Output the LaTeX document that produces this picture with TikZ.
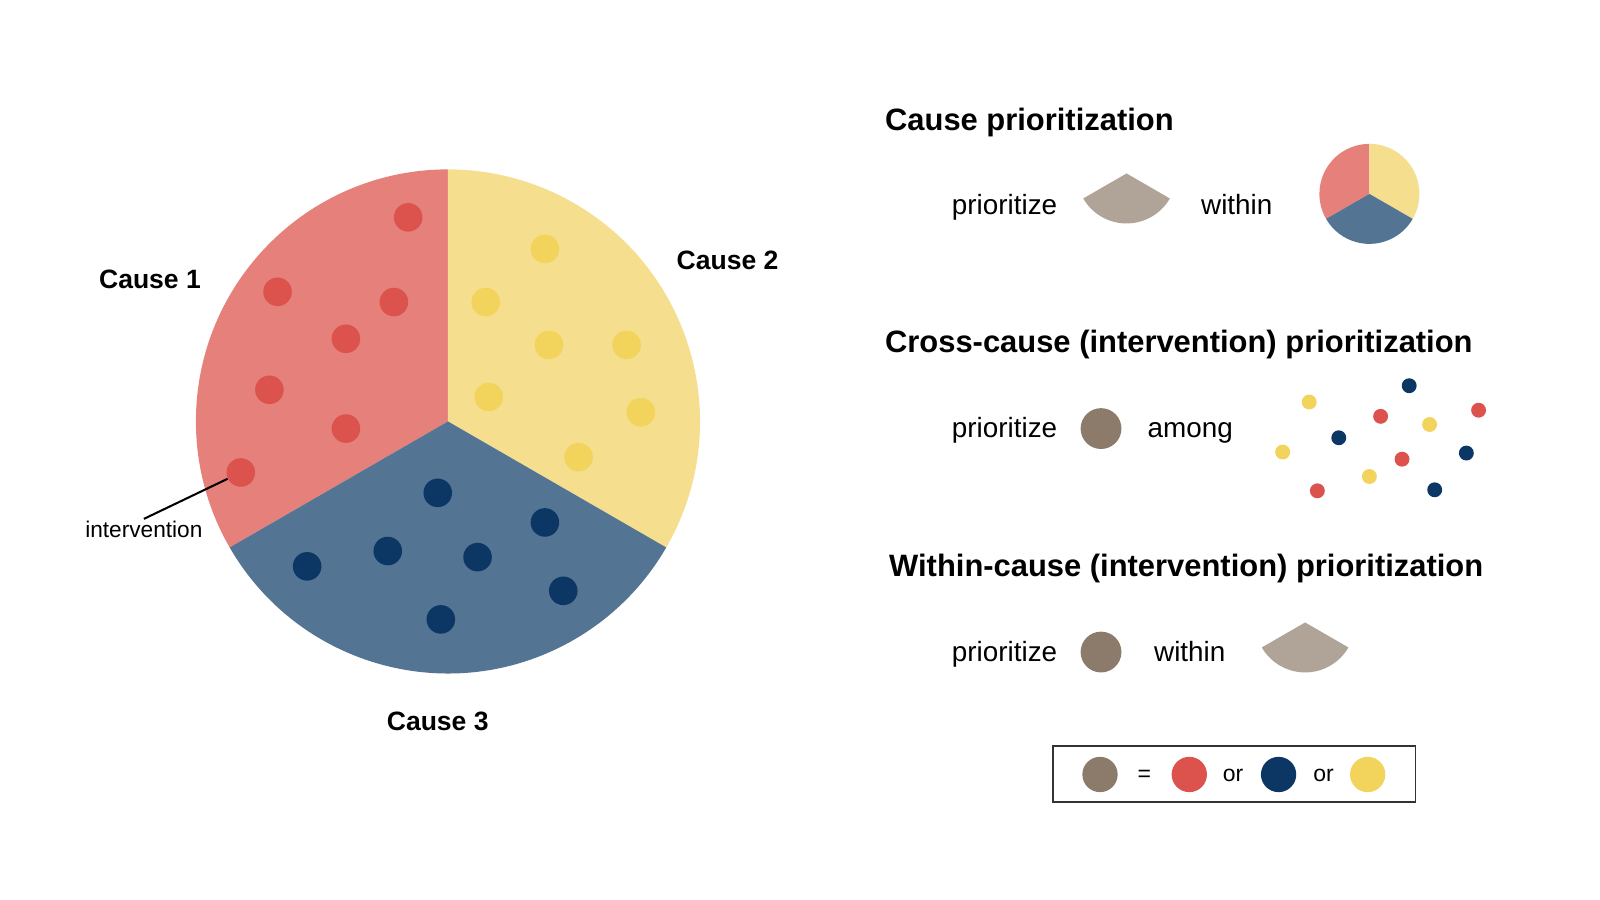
\documentclass[tikz,border=0pt]{standalone}
\usepackage{fontspec}
\setmainfont{Liberation Sans}
\definecolor{cRedL}{HTML}{E5807A}
\definecolor{cRed}{HTML}{DC524C}
\definecolor{cYelL}{HTML}{F5DF8E}
\definecolor{cYel}{HTML}{F2D35C}
\definecolor{cBluL}{HTML}{537493}
\definecolor{cNavy}{HTML}{0C3764}
\definecolor{cGray}{HTML}{B0A398}
\definecolor{cBrown}{HTML}{8C7B6B}
\begin{document}
\begin{tikzpicture}[x=0.5pt,y=0.5pt,
  pdot/.style={circle, inner sep=0pt, minimum size=14pt, draw=none},
  sdot/.style={circle, inner sep=0pt, minimum size=7.3pt, draw=none},
  ldot/.style={circle, inner sep=0pt, minimum size=17.3pt, draw=none},
  bigdot/.style={circle, inner sep=0pt, minimum size=20pt, fill=cBrown},
  titletxt/.style={anchor=base west, inner sep=0pt, font=\fontsize{15.15}{18}\selectfont\bfseries},
  rowtxt/.style={anchor=base, inner sep=0pt, font=\fontsize{13.65}{16}\selectfont},
  causelbl/.style={anchor=base, inner sep=0pt, font=\fontsize{13}{16}\selectfont\bfseries},
  legtxt/.style={anchor=base, inner sep=0pt, font=\fontsize{11.25}{14}\selectfont},
  annot/.style={anchor=base, inner sep=0pt, font=\fontsize{11.1}{14}\selectfont},
  legendbox/.style={draw=black!80, line width=0.75pt},
  leader/.style={draw=black, line width=1pt}
]
\useasboundingbox[fill=white] (0,0) rectangle (1568,-882);

% ---------- main pie ----------
\coordinate (C) at (439,-413);
\fill[cRedL] (C) -- ++(90:247) arc[start angle=90, end angle=210, radius=247] -- cycle;
\fill[cYelL] (C) -- ++(-30:247) arc[start angle=-30, end angle=90, radius=247] -- cycle;
\fill[cBluL] (C) -- ++(210:247) arc[start angle=210, end angle=330, radius=247] -- cycle;

\foreach \n/\x/\y in {r1/400/213, r2/272/286, r3/386/296, r4/339/332, r5/264/382, r6/339/420, r7/236/463}
  \node[pdot, fill=cRed] (\n) at (\x,-\y) {};
\foreach \n/\x/\y in {y1/534/244, y2/476/296, y3/538/338, y4/614/338, y5/479/389, y6/628/404, y7/567/448}
  \node[pdot, fill=cYel] (\n) at (\x,-\y) {};
\foreach \n/\x/\y in {b1/429/483, b2/534/512, b3/380/540, b4/468/546, b5/301/555, b6/552/579, b7/432/607}
  \node[pdot, fill=cNavy] (\n) at (\x,-\y) {};

\node[causelbl] (cause1) at (147,-283) {Cause 1};
\node[causelbl] (cause2) at (713,-264) {Cause 2};
\node[causelbl] (cause3) at (429,-716) {Cause 3};

\node[annot] (intv) at (141,-527) {intervention};
\draw[leader] ([yshift=1pt]intv.north) -- (r7);

% ---------- Cause prioritization ----------
\node[titletxt] (t1) at (867,-127.5) {Cause prioritization};
\node[rowtxt] (p1) at (984.5,-210) {prioritize};
\fill[cGray] (1104,-170) -- ++(-150:49) arc[start angle=-150, end angle=-30, radius=49] -- cycle;
\node[rowtxt] (w1) at (1212,-210) {within};
\coordinate (SP) at (1342,-190);
\fill[cRedL] (SP) -- ++(90:49) arc[start angle=90, end angle=210, radius=49] -- cycle;
\fill[cYelL] (SP) -- ++(-30:49) arc[start angle=-30, end angle=90, radius=49] -- cycle;
\fill[cBluL] (SP) -- ++(210:49) arc[start angle=210, end angle=330, radius=49] -- cycle;

% ---------- Cross-cause ----------
\node[titletxt] (t2) at (867,-345.5) {Cross-cause (intervention) prioritization};
\node[rowtxt] (p2) at (984.5,-429) {prioritize};
\node[bigdot] (bd2) at (1079,-420) {};
\node[rowtxt] (a2) at (1166.5,-429) {among};
\foreach \n/\x/\y/\c in {s1/1283/394/cYel, s2/1381/378/cNavy, s3/1449/402/cRed, s4/1353/408/cRed,
  s5/1401/416/cYel, s6/1312/429/cNavy, s7/1257/443/cYel, s8/1437/444/cNavy, s9/1374/450/cRed,
  s10/1342/467/cYel, s11/1291/481/cRed, s12/1406/480/cNavy}
  \node[sdot, fill=\c] (\n) at (\x,-\y) {};

% ---------- Within-cause ----------
\node[titletxt] (t3) at (871,-564.5) {Within-cause (intervention) prioritization};
\node[rowtxt] (p3) at (984.5,-648) {prioritize};
\node[bigdot] (bd3) at (1079,-639) {};
\node[rowtxt] (w3) at (1166,-648) {within};
\fill[cGray] (1279,-610) -- ++(-150:49) arc[start angle=-150, end angle=-30, radius=49] -- cycle;

% ---------- legend ----------
\draw[legendbox] (1032,-731) rectangle (1387,-786);
\node[ldot, fill=cBrown] (l0) at (1078,-759) {};
\node[legtxt] (leq) at (1121.4,-766) {=};
\node[ldot, fill=cRed] (l1) at (1165.5,-759) {};
\node[legtxt] (lor1) at (1208.5,-766) {or};
\node[ldot, fill=cNavy] (l2) at (1253,-759) {};
\node[legtxt] (lor2) at (1297,-766) {or};
\node[ldot, fill=cYel] (l3) at (1340.3,-759) {};
\end{tikzpicture}
\end{document}
